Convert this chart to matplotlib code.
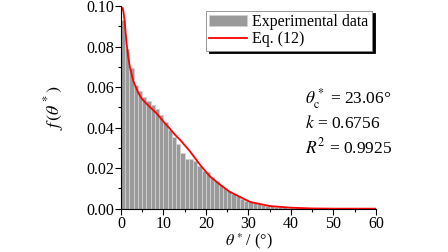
import numpy as np
import matplotlib
matplotlib.use("Agg")
import matplotlib.pyplot as plt
from matplotlib.ticker import MultipleLocator

plt.rcParams['font.family'] = ['Liberation Serif', 'DejaVu Serif']
plt.rcParams['mathtext.fontset'] = 'stix'

# histogram, 1 degree bins starting at 0
bar_vals = [0.093, 0.079, 0.0695, 0.061, 0.058, 0.055, 0.053, 0.051, 0.049, 0.046,
            0.043, 0.039, 0.0355, 0.0318, 0.0275, 0.0247, 0.0247, 0.0235, 0.021, 0.0188,
            0.018, 0.0157, 0.0137, 0.0118, 0.0103, 0.0085, 0.0072, 0.006, 0.005, 0.004,
            0.0033, 0.0027, 0.0022, 0.0018, 0.0015, 0.0012, 0.001, 0.0008, 0.0006, 0.0004,
            0.0003, 0.0002]

# fitted curve Eq. (12)
fit_x = [0.4, 0.6, 0.9, 1.3, 1.7, 2.1, 2.9, 4.1, 5.0, 6.4, 8.4, 10.4, 11.5, 12.7,
         13.9, 16.2, 18.6, 20.9, 23.3, 25.6, 28.0, 30.4, 35.0, 39.8, 45, 50, 55, 60]
fit_y = [0.099, 0.097, 0.092, 0.082, 0.075, 0.070, 0.063, 0.057, 0.054, 0.051, 0.047,
         0.042, 0.0395, 0.0365, 0.034, 0.0284, 0.0217, 0.016, 0.0119, 0.0083, 0.0058,
         0.0033, 0.0013, 0.0005, 0.0001, 0.0, 0.0, 0.0]

fig = plt.figure(figsize=(4.48, 2.52), dpi=100)
ax = fig.add_axes([0.27, 0.172, 0.569, 0.804])

bin_left = np.arange(len(bar_vals))
bars = ax.bar(bin_left, bar_vals, width=1.0, align='edge', color='#9a9a9a',
              edgecolor='#d0d0d0', linewidth=0.6)
line, = ax.plot(fit_x, fit_y, color='red', lw=1.3)

ax.set_xlim(0, 60)
ax.set_ylim(0, 0.1)
ax.xaxis.set_major_locator(MultipleLocator(10))
ax.xaxis.set_minor_locator(MultipleLocator(5))
ax.yaxis.set_major_locator(MultipleLocator(0.02))
ax.yaxis.set_minor_locator(MultipleLocator(0.01))
ax.yaxis.set_major_formatter(matplotlib.ticker.FormatStrFormatter('%.2f'))
ax.spines['top'].set_visible(False)
ax.spines['right'].set_visible(False)
ax.tick_params(which='major', direction='out', length=4, width=0.8, labelsize=11.5, pad=1)
ax.tick_params(which='minor', direction='out', length=2, width=0.8)

ax.set_xlabel(r'$\theta^*\,$/ (°)', fontsize=11.5, va='bottom')
ax.xaxis.set_label_coords(0.5, -0.21)
ax.set_ylabel(r'$f\,(\theta^*)$', fontsize=13)
ax.yaxis.set_label_coords(-0.215, 0.5)

leg = ax.legend([bars, line], ['Experimental data', 'Eq. (12)'], loc='upper right',
                bbox_to_anchor=(0.99, 0.985), fontsize=11.5,
                frameon=True, fancybox=False, shadow={'color': 'black', 'alpha': 1},
                borderpad=0.2, handlelength=2.4, handletextpad=0.3, borderaxespad=0.1,
                labelspacing=0.1)
leg.get_frame().set_edgecolor('#888888')
leg.get_frame().set_linewidth(0.6)

ax.text(43.3, 0.0544, r'$\theta_{\rm c}^*$ = 23.06°', fontsize=12.5, va='center')
ax.text(43.3, 0.0420, r'$k$ = 0.6756', fontsize=12.5, va='center')
ax.text(43.3, 0.0300, r'$R^2$ = 0.9925', fontsize=12.5, va='center')

fig.savefig('out.png', dpi=100)
